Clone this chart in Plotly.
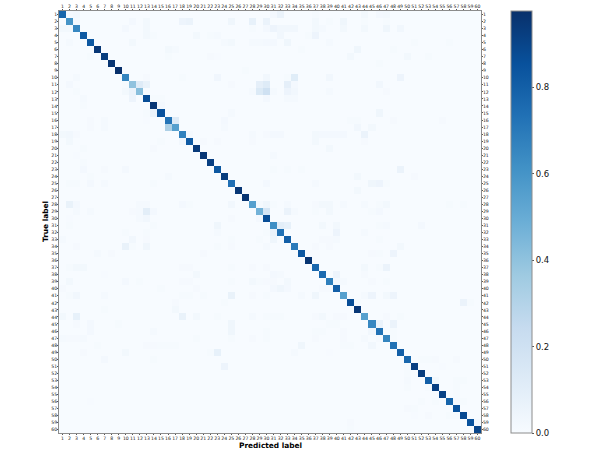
import numpy as np
import plotly.graph_objects as go

labels = list(range(1, 61))

# per-class recall on the diagonal
diagonal = [
    0.78, 0.60, 0.65, 0.82, 0.83, 0.95, 0.93, 0.96, 0.977, 0.66,
    0.40, 0.42, 0.87, 0.95, 0.85, 0.72, 0.55, 0.67, 0.82, 0.94,
    0.95, 0.92, 0.83, 0.93, 0.74, 0.95, 0.96, 0.55, 0.47, 0.87,
    0.62, 0.73, 0.80, 0.70, 0.83, 0.96, 0.77, 0.76, 0.68, 0.80,
    0.55, 0.87, 0.95, 0.55, 0.65, 0.73, 0.66, 0.73, 0.80, 0.77,
    0.92, 0.93, 0.80, 0.92, 0.91, 0.78, 0.85, 0.88, 0.85, 0.90,
]

# confusions, one entry per true label: predicted labels and their values
off_pred = [
    [2, 3, 31, 32, 37, 44, 46, 47],
    [3, 11, 13, 18, 19, 25, 28, 30, 37, 39, 41, 44, 47],
    [1, 2, 10, 13, 28, 30, 31, 32, 33, 34, 37, 38, 41, 44, 47, 49],
    [13, 14, 20, 22, 23, 32, 36, 37],
    [2, 11, 24, 25, 28, 29, 30, 31, 33, 39, 51, 56],
    [16, 17, 35, 43, 48],
    [5, 16, 22, 23, 42, 50, 53],
    [46],
    [27],
    [3, 13, 18, 23, 30, 33, 34, 39, 49],
    [2, 10, 12, 13, 25, 29, 30, 33, 34, 46],
    [3, 10, 11, 28, 29, 30, 31, 33, 34, 39, 47],
    [4, 11, 14, 15, 30, 33, 34],
    [4, 15],
    [13, 14, 25, 46],
    [5, 7, 13, 17, 24, 42, 43, 48, 55],
    [5, 7, 16, 24, 43, 45],
    [1, 2, 3, 19, 28, 30, 31, 32, 37, 38, 39, 40, 41, 44],
    [2, 15, 18, 21, 23, 28, 37, 44],
    [4, 14, 39],
    [3, 31],
    [4],
    [4, 7, 10, 31, 33, 35, 49],
    [5, 16, 43, 51],
    [2, 3, 5, 7, 14, 30, 37, 45, 46, 47],
    [43],
    [],
    [2, 3, 12, 13, 18, 19, 25, 29, 30, 31, 33, 37, 38, 39, 41, 44, 46, 47, 56, 58],
    [3, 5, 11, 12, 13, 14, 30, 33, 34, 37, 39, 45, 46],
    [2, 12, 13, 25, 29],
    [2, 14, 23, 32, 33, 38, 40, 46, 47, 52],
    [10, 13, 23, 30, 31, 40, 44],
    [1, 11, 13, 25, 29, 31, 38, 39, 40, 46],
    [3, 10, 11, 13, 23, 25, 30, 37, 39, 49],
    [6, 8, 21, 45, 46, 48],
    [],
    [2, 3, 4, 18, 19, 25, 28, 30, 44, 46, 47],
    [7, 20, 31, 32, 40, 44],
    [2, 10, 12, 18, 19, 25, 28, 29, 30, 31, 33, 40, 41, 45, 47],
    [1, 15, 20, 31, 32, 33, 38, 39],
    [2, 3, 7, 18, 19, 21, 25, 28, 30, 35, 37, 44, 45, 47, 48],
    [17, 24, 43, 58, 59],
    [7, 17],
    [1, 3, 18, 20, 23, 28, 30, 31, 32, 37, 38, 40, 41, 47, 49],
    [3, 5, 9, 25, 39, 40, 46, 48],
    [5, 14, 25, 30, 37, 38, 41, 45, 48],
    [1, 2, 3, 4, 20, 25, 28, 30, 37, 41, 44, 46, 48],
    [6, 13, 14, 15, 16, 17, 35, 41, 42, 45],
    [4, 10, 22, 23, 34, 39],
    [7, 14, 52, 53, 54, 57],
    [24, 50, 55],
    [50],
    [50, 54, 57, 58],
    [50, 53, 57],
    [57],
    [5, 52, 54, 57, 58],
    [50, 51],
    [51, 53, 56, 57],
    [42, 60],
    [42],
]
off_vals = [
    [.02, .03, .02, .06, .01, .025, .02, .025],
    [.02, .02, .025, .05, .06, .04, .08, .06, .025, .01, .04, .01, .01],
    [.025, .025, .02, .025, .01, .02, .05, .03, .03, .03, .025, .015, .025, .025, .04, .03],
    [.025, .01, .025, .01, .015, .03, .01, .05],
    [.015, .025, .015, .025, .015, .015, .02, .02, .04, .015, .008, .008],
    [.025, .015, .01, .04, .01],
    [.008, .008, .012, .006, .025, .025, .01],
    [.01],
    [.008],
    [.015, .012, .008, .035, .03, .01, .11, .03, .05],
    [.02, .01, .12, .07, .012, .09, .12, .09, .02, .03],
    [.01, .025, .06, .015, .13, .2, .015, .05, .03, .015, .012],
    [.015, .05, .008, .008, .02, .015, .015],
    [.008, .02],
    [.01, .06, .015, .04],
    [.012, .015, .006, .12, .02, .01, .01, .012, .012],
    [.012, .015, .32, .015, .03, .025],
    [.025, .03, .012, .015, .015, .012, .02, .02, .025, .02, .02, .02, .02, .06],
    [.025, .01, .03, .012, .012, .012, .025, .012],
    [.01, .012, .025],
    [.006, .015],
    [.008],
    [.02, .012, .02, .008, .008, .008, .06],
    [.01, .015, .025, .012],
    [.008, .008, .02, .015, .008, .02, .015, .04, .05, .01],
    [.025],
    [],
    [.07, .02, .015, .015, .02, .008, .03, .015, .04, .008, .015, .012, .025, .025, .015, .015, .008, .025, .008, .008],
    [.015, .015, .012, .015, .1, .02, .17, .06, .015, .008, .025, .008, .02],
    [.006, .015, .03, .012, .02],
    [.008, .008, .04, .1, .08, .025, .025, .01, .015, .02],
    [.008, .008, .015, .008, .06, .05, .015],
    [.015, .03, .012, .008, .008, .04, .012, .012, .015, .008],
    [.012, .07, .008, .04, .01, .012, .015, .012, .012, .025],
    [.015, .012, .012, .012, .008, .05],
    [],
    [.008, .025, .025, .012, .012, .01, .012, .012, .025, .008, .06],
    [.006, .025, .02, .015, .05, .012],
    [.025, .02, .008, .012, .012, .01, .025, .01, .012, .012, .025, .02, .015, .012, .008],
    [.012, .008, .012, .02, .04, .02, .012, .012],
    [.008, .03, .015, .008, .008, .008, .07, .012, .01, .015, .04, .015, .05, .025, .05],
    [.012, .01, .008, .06, .01],
    [.01, .025],
    [.025, .08, .07, .025, .01, .015, .01, .01, .01, .012, .025, .012, .012, .012, .008],
    [.012, .02, .008, .04, .008, .008, .06, .06],
    [.02, .015, .04, .01, .008, .008, .012, .03, .008],
    [.015, .012, .012, .015, .008, .008, .012, .008, .012, .012, .015, .012, .01],
    [.008, .012, .012, .008, .008, .008, .04, .008, .01, .03],
    [.012, .025, .008, .08, .015, .006],
    [.02, .01, .008, .008, .012, .012],
    [.05, .01, .006],
    [.008],
    [.015, .025, .008, .008],
    [.01, .008, .008],
    [.008],
    [.006, .01, .008, .012, .008],
    [.012, .008],
    [.006, .012, .008, .008],
    [.012, .02],
    [.008],
]

blues = ["#f7fbff", "#deebf7", "#c6dbef", "#9ecae1", "#6baed6",
         "#4292c6", "#2171b5", "#08519c", "#08306b"]

z = np.zeros((60, 60))
for i, (cols, vals) in enumerate(zip(off_pred, off_vals, strict=True)):
    for c, v in zip(cols, vals, strict=True):
        z[i, c - 1] = v
    z[i, i] = diagonal[i]

FONT = "DejaVu Sans"
SPINE = "#8c8c8c"

fig = go.Figure()

fig.add_trace(
    go.Heatmap(
        x=labels,
        y=labels,
        z=z,
        zmin=0,
        zmax=0.977,
        colorscale=blues,
        colorbar=dict(
            x=1.071,
            xanchor="left",
            y=0.5,
            yanchor="middle",
            len=1,
            thickness=21,
            xpad=0,
            ypad=0,
            outlinecolor=SPINE,
            outlinewidth=1,
            tickvals=[0, 0.2, 0.4, 0.6, 0.8],
            ticktext=["0.0", "0.2", "0.4", "0.6", "0.8"],
            ticks="outside",
            ticklen=2,
            tickwidth=1,
            tickcolor="#555555",
            tickfont=dict(family=FONT, size=8.5, color="#111111"),
        ),
    )
)

# empty trace so the top and right axes get drawn
fig.add_trace(
    go.Scatter(
        x=[None],
        y=[None],
        xaxis="x2",
        yaxis="y2",
        mode="markers",
        showlegend=False,
        hoverinfo="skip",
    )
)

tick_style = dict(
    tickmode="array",
    tickvals=labels,
    ticktext=[str(v) for v in labels],
    ticks="outside",
    ticklen=1,
    tickwidth=0.6,
    tickcolor="#555555",
    tickangle=0,
    ticklabelstandoff=-1,
    tickfont=dict(family=FONT, size=4.6, color="#222222"),
    showgrid=False,
    zeroline=False,
    showline=True,
    linecolor=SPINE,
    linewidth=1,
    automargin=False,
)

title_font = dict(family=FONT, size=7.4, weight="bold", color="black")

fig.update_layout(
    width=605,
    height=454,
    margin=dict(l=59, r=124, t=11, b=21),
    paper_bgcolor="white",
    plot_bgcolor="white",
    font=dict(family=FONT),
    showlegend=False,
    xaxis=dict(range=[0.5, 60.5], side="bottom", **tick_style),
    yaxis=dict(range=[60.5, 0.5], side="left", **tick_style),
    xaxis2=dict(range=[0.5, 60.5], side="top", overlaying="x", anchor="y", **tick_style),
    yaxis2=dict(range=[60.5, 0.5], side="right", overlaying="y", anchor="x", **tick_style),
)

# axis titles sit closer to the ticks than plotly's standoff allows
fig.add_annotation(
    text="Predicted label", xref="paper", yref="paper", x=0.5, y=-0.03,
    xanchor="center", yanchor="middle", showarrow=False, font=title_font,
)
fig.add_annotation(
    text="True label", xref="paper", yref="paper", x=-0.033, y=0.5, textangle=-90,
    xanchor="center", yanchor="middle", showarrow=False, font=title_font,
)

# the page's default body margin would push the figure off the window
fig.write_html(
    "out.html",
    config={"displayModeBar": False},
    post_script="document.body.style.margin = '0';",
)
